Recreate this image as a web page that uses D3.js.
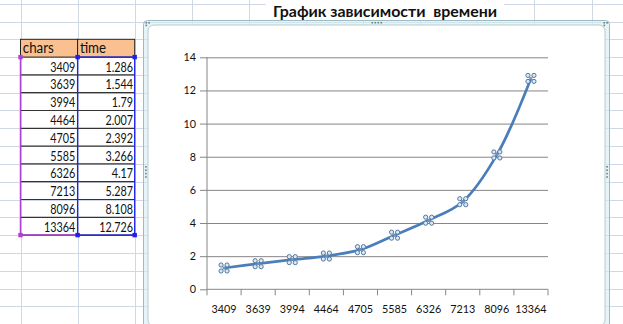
<!DOCTYPE html>
<html>
<head>
<meta charset="utf-8">
<script src="https://cdn.jsdelivr.net/npm/d3@7"></script>
<style>
  html, body { margin: 0; padding: 0; background: #fff; }
  svg { display: block; }
  .axis text { font-family: Lato, 'Open Sans', sans-serif; font-size: 10.8px; fill: #111; }
  .axis .domain { display: none; }
</style>
</head>
<body>
<div id="chart"></div>
<script>
const chars = ['3409', '3639', '3994', '4464', '4705', '5585', '6326', '7213', '8096', '13364'];
const times = [1.286, 1.544, 1.79, 2.007, 2.392, 3.266, 4.17, 5.287, 8.108, 12.726];
const yTicks = [0, 2, 4, 6, 8, 10, 12, 14];
const headers = ['chars', 'time'];
const title = 'График зависимости  времени';

const W = 623;
const H = 324;
const SHEET = { colX0: 20.5, colW: 57.1, rowY0: 3.7, rowH: 17.8, gridColor: '#d0d7e5' };
const PLOT = { left: 207, right: 548, top: 57.3, bottom: 289.3 };
const FRAME = { x: 143.5, y: 20.5, w: 466, h: 310 };
const LINE_COLOR = '#4a7ebb';
const AXIS_COLOR = '#868686';

const svg = d3.select('#chart').append('svg')
  .attr('width', W)
  .attr('height', H);

// squished text, the screenshot is narrower than the real sheet
function cellText(g, x, y, str, anchor, opts = {}) {
  return g.append('text')
    .attr('transform', `translate(${x},${y}) scale(${opts.sx ?? 0.8},1)`)
    .attr('text-anchor', anchor)
    .attr('font-family', 'Lato, "Open Sans", sans-serif')
    .attr('font-size', opts.size ?? 13.5)
    .attr('fill', '#111')
    .text(str);
}

function drawSheetGrid() {
  const g = svg.append('g').attr('class', 'sheet-grid');
  for (let x = SHEET.colX0; x < W; x += SHEET.colW) {
    g.append('line')
      .attr('x1', Math.round(x) + 0.5).attr('x2', Math.round(x) + 0.5)
      .attr('y1', 0).attr('y2', H)
      .attr('stroke', SHEET.gridColor);
  }
  for (let y = SHEET.rowY0; y < H; y += SHEET.rowH) {
    g.append('line')
      .attr('x1', 0).attr('x2', W)
      .attr('y1', Math.round(y) + 0.5).attr('y2', Math.round(y) + 0.5)
      .attr('stroke', SHEET.gridColor);
  }
}

function drawTable() {
  const g = svg.append('g').attr('class', 'table');
  const colX = (i) => SHEET.colX0 + i * SHEET.colW;
  const rowY = (i) => SHEET.rowY0 + (i + 2) * SHEET.rowH; // header sits on 3rd grid row

  headers.forEach((h, i) => {
    g.append('rect')
      .attr('x', colX(i)).attr('y', rowY(0))
      .attr('width', SHEET.colW).attr('height', SHEET.rowH)
      .attr('fill', '#fac090')
      .attr('stroke', '#222').attr('stroke-width', 1);
    cellText(g, colX(i) + 2.3, rowY(0) + SHEET.rowH - 3.8, h, 'start', { sx: 0.92, size: 14.5 });
  });

  chars.forEach((c, r) => {
    const yb = rowY(r + 2);
    g.append('line')
      .attr('x1', colX(0)).attr('x2', colX(2))
      .attr('y1', yb).attr('y2', yb)
      .attr('stroke', '#333').attr('stroke-width', 1.2);
    cellText(g, colX(1) - 2.3, yb - 3.3, c, 'end');
    cellText(g, colX(2) - 1.6, yb - 3.3, String(times[r]), 'end');
  });

  // range selection highlight (series source)
  const yTop = rowY(1);
  const yBot = rowY(chars.length + 1);
  const purple = '#b03fd6';
  const blue = '#1f1ff0';
  g.append('path')
    .attr('d', `M${colX(0)},${yTop}V${yBot}H${colX(1)}`)
    .attr('fill', 'none').attr('stroke', purple).attr('stroke-width', 1.5);
  g.append('rect')
    .attr('x', colX(1)).attr('y', yTop)
    .attr('width', SHEET.colW).attr('height', yBot - yTop)
    .attr('fill', 'none').attr('stroke', blue).attr('stroke-width', 1.3);
  const handles = [
    [colX(0), yTop, purple], [colX(0), yBot, purple],
    [colX(1), yTop, blue], [colX(2), yTop, blue],
    [colX(1), yBot, blue], [colX(2), yBot, blue],
  ];
  handles.forEach(([x, y, col]) => {
    g.append('rect')
      .attr('x', x - 2.2).attr('y', y - 2.2)
      .attr('width', 4.4).attr('height', 4.4)
      .attr('fill', col);
  });
}

function drawFrame() {
  const g = svg.append('g').attr('class', 'frame');
  g.append('rect')
    .attr('x', FRAME.x).attr('y', FRAME.y)
    .attr('width', FRAME.w).attr('height', FRAME.h)
    .attr('rx', 4)
    .attr('fill', '#d3eff2').attr('fill-opacity', 0.6)
    .attr('stroke', '#9dbcc2');
  g.append('rect')
    .attr('x', FRAME.x + 4.5).attr('y', FRAME.y + 4.5)
    .attr('width', FRAME.w - 9).attr('height', FRAME.h - 9)
    .attr('rx', 6)
    .attr('fill', '#fff')
    .attr('stroke', '#b9cacd');

  const dot = (x, y) => g.append('rect')
    .attr('x', x).attr('y', y).attr('width', 1.6).attr('height', 1.6)
    .attr('fill', '#6d7f84');
  // corner grips
  [[FRAME.x + 2, FRAME.y + 1.5], [FRAME.x + FRAME.w - 6, FRAME.y + 1.5]].forEach(([x, y]) => {
    dot(x, y); dot(x + 2.8, y); dot(x, y + 2.6);
  });
  // side grips
  const midX = FRAME.x + FRAME.w / 2;
  for (let i = 0; i < 4; i++) {
    dot(midX - 5 + i * 3, FRAME.y + 1.4);
    dot(FRAME.x + FRAME.w - 3.2, 166 + i * 3.4);
    dot(FRAME.x + 1.6, 166 + i * 3.4);
  }
}

function drawTitle() {
  svg.append('rect')
    .attr('x', 266).attr('y', 0)
    .attr('width', 238).attr('height', 20)
    .attr('fill', '#fff');
  svg.append('text')
    .attr('x', 385).attr('y', 16.5)
    .attr('text-anchor', 'middle')
    .attr('font-family', 'Lato, "Open Sans", sans-serif')
    .attr('font-weight', 'bold')
    .attr('font-size', 15.5)
    .attr('fill', '#111')
    .style('white-space', 'pre')
    .attr('textLength', 224)
    .attr('lengthAdjust', 'spacingAndGlyphs')
    .text(title);
}

function drawPlot() {
  const x = d3.scaleBand().domain(chars).range([PLOT.left, PLOT.right]);
  const y = d3.scaleLinear().domain([0, 14]).range([PLOT.bottom, PLOT.top]);
  const innerW = PLOT.right - PLOT.left;

  // horizontal gridlines
  svg.append('g')
    .attr('transform', `translate(${PLOT.left},0)`)
    .call(d3.axisLeft(y).tickValues(yTicks.slice(1)).tickSize(-innerW).tickFormat(''))
    .call((s) => s.select('.domain').remove())
    .call((s) => s.selectAll('line').attr('stroke', AXIS_COLOR).attr('stroke-width', 1));

  // y axis
  const yAxis = svg.append('g')
    .attr('class', 'axis')
    .attr('transform', `translate(${PLOT.left},0)`)
    .call(d3.axisLeft(y).tickValues(yTicks).tickSize(7).tickPadding(4));
  yAxis.selectAll('line').attr('stroke', AXIS_COLOR);
  yAxis.append('line')
    .attr('y1', y(0)).attr('y2', y(14))
    .attr('stroke', AXIS_COLOR);

  // x axis: labels at band centres, ticks at band edges
  const xAxis = svg.append('g')
    .attr('class', 'axis')
    .attr('transform', `translate(0,${PLOT.bottom})`)
    .call(d3.axisBottom(x).tickSize(0).tickPadding(16));
  xAxis.append('line')
    .attr('x1', PLOT.left).attr('x2', PLOT.right)
    .attr('stroke', AXIS_COLOR);
  const edges = chars.map((c) => x(c)).concat([x.range()[1]]);
  xAxis.selectAll('.edge-tick')
    .data(edges)
    .join('line')
    .attr('class', 'edge-tick')
    .attr('x1', (d) => d).attr('x2', (d) => d)
    .attr('y1', 0).attr('y2', 6)
    .attr('stroke', AXIS_COLOR);

  const pts = chars.map((c, i) => ({ c, t: times[i] }));
  const cx = (d) => x(d.c) + x.bandwidth() / 2;

  svg.append('path')
    .datum(pts)
    .attr('fill', 'none')
    .attr('stroke', LINE_COLOR)
    .attr('stroke-width', 2.7)
    .attr('stroke-linejoin', 'round')
    .attr('d', d3.line().x(cx).y((d) => y(d.t)).curve(d3.curveCatmullRom.alpha(0.5)));

  // selection handles on each point
  const offs = [[-3, -3], [3, -3], [-3, 3], [3, 3]];
  const mk = svg.append('g').selectAll('g')
    .data(pts)
    .join('g')
    .attr('transform', (d) => `translate(${cx(d)},${y(d.t)})`);
  mk.append('path')
    .attr('d', 'M-3,-3L3,3M3,-3L-3,3')
    .attr('stroke', '#6f93bd')
    .attr('stroke-width', 1.2);
  mk.selectAll('circle')
    .data(offs)
    .join('circle')
    .attr('cx', (o) => o[0]).attr('cy', (o) => o[1])
    .attr('r', 2.1)
    .attr('fill', '#dbe7f5')
    .attr('stroke', '#55799f')
    .attr('stroke-width', 1);
}

drawSheetGrid();
drawTable();
drawFrame();
drawTitle();
drawPlot();
</script>
</body>
</html>
